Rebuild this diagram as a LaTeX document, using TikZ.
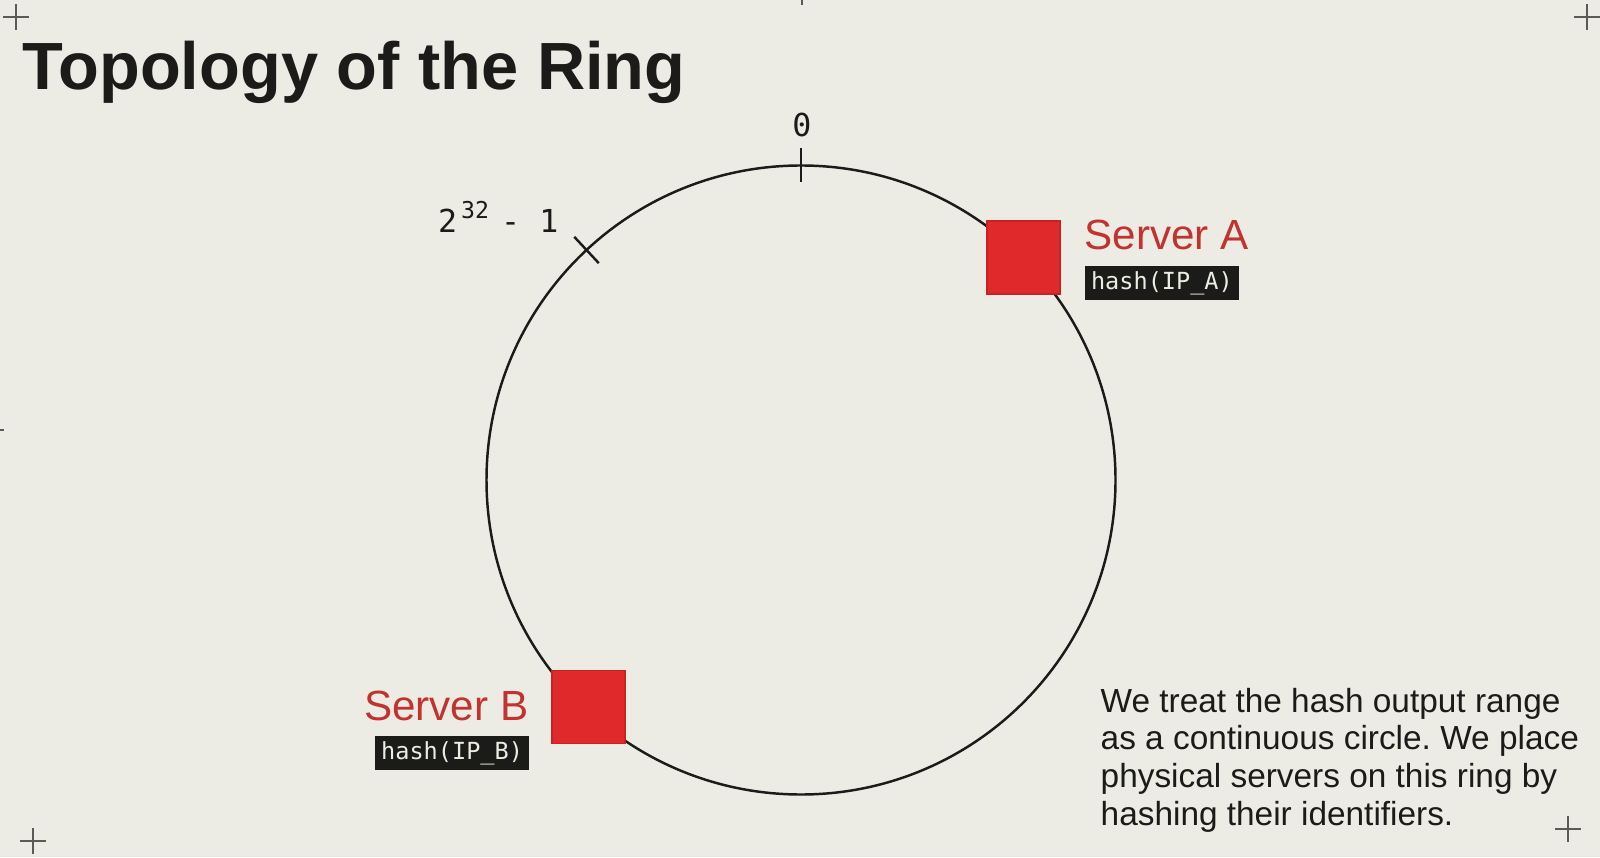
\documentclass[tikz,border=0pt]{standalone}
\usepackage{fontspec}
\setmainfont{Liberation Sans}
\setmonofont{DejaVu Sans Mono}
\usepackage{xcolor}
\usepackage{tikz}
\usetikzlibrary{positioning}

\definecolor{paper}{HTML}{EDECE4}
\definecolor{ink}{HTML}{1B1B19}
\definecolor{srvred}{HTML}{E0292A}
\definecolor{srvedge}{HTML}{C92224}
\definecolor{srvtext}{HTML}{C2332F}
\definecolor{cropgray}{HTML}{5A5A58}

\newcommand{\ringcross}[1]{\draw[cropline] (#1) ++(-0.13,0) -- ++(0.26,0) (#1) ++(0,-0.13) -- ++(0,0.26);}

\begin{document}
\frenchspacing
\begin{tikzpicture}[
		ring/.style={draw=ink, line width=0.7pt, circle, minimum size=6.29cm, inner sep=0pt, outer sep=0pt},
		server/.style={fill=srvred, draw=srvedge, line width=0.4pt, minimum size=0.73cm, inner sep=0pt},
		srvname/.style={text=srvtext, font=\fontsize{12}{14}\selectfont, inner sep=0pt},
		hashbox/.style={fill=ink, text=paper, font=\ttfamily\fontsize{6.7}{7.8}\selectfont, inner xsep=1.8pt, inner ysep=1.6pt},
		ticklabel/.style={text=ink, font=\ttfamily\fontsize{9}{10}\selectfont, inner sep=0pt},
		tickline/.style={draw=ink, line width=0.7pt},
		cropline/.style={draw=cropgray, line width=0.4pt}
	]
		\fill[paper] (0,0) rectangle (16,8.57);
		\useasboundingbox (0,0) rectangle (16,8.57);
		%
		\node[anchor=base west, inner sep=0pt, text=ink, font=\bfseries\fontsize{19}{22}\selectfont] (title) at (0.22,7.67) {Topology of the Ring};
		%
		\node[ring] (ring) at (8.01,3.77) {};
		% ticks on the ring
		\draw[tickline] (ring.90) -- ++(90:0.17) (ring.90) -- ++(90:-0.17);
		\draw[tickline] (ring.133) -- ++(133:0.18) (ring.133) -- ++(133:-0.18);
		\node[ticklabel, anchor=base] (zero) at (8.02,7.20) {0};
		\node[ticklabel, anchor=base east] (top) at (5.59,6.24) {2\kern0.04cm\raisebox{0.85ex}{\fontsize{6.6}{7}\selectfont 32}\kern-0.07cm{} - 1};
		%
		\node[server] (srvA) at (ring.45) {};
		\node[server, xshift=0.02cm, yshift=0.03cm] (srvB) at (ring.227) {};
		% server labels
		\node[srvname, anchor=base west] (nameA) at (10.84,6.07) {Server A};
		\node[hashbox, anchor=north west] (hashA) at (10.84,5.92) {hash(IP\_A)};
		\node[srvname, anchor=base east] (nameB) at (5.29,1.37) {Server B};
		\node[hashbox, anchor=north east] (hashB) at (5.30,1.22) {hash(IP\_B)};
		%
		\node[anchor=base west, inner sep=0pt, align=left, text=ink, font=\fontsize{9.5}{10.7}\selectfont] (note) at (11.00,0.32)
			{We treat the hash output range\\as a continuous circle. We place\\physical servers on this ring by\\hashing their identifiers.};
		% crop marks
		\ringcross{0.16,8.40}
		\ringcross{15.87,8.40}
		\ringcross{0.33,0.16}
		\ringcross{15.68,0.28}
		\draw[cropline] (8.02,8.57) -- (8.02,8.52);
		\draw[cropline] (0,4.27) -- (0.04,4.27);
	\end{tikzpicture}
\end{document}
